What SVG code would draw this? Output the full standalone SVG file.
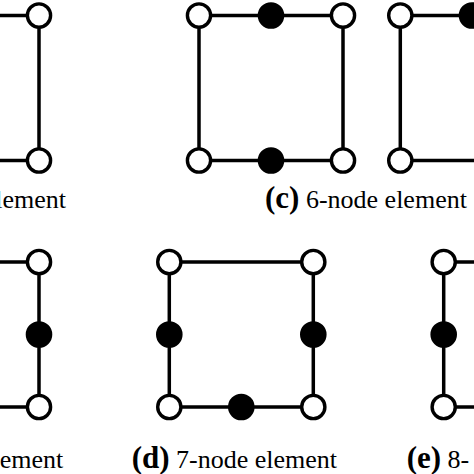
<svg xmlns="http://www.w3.org/2000/svg" width="474" height="474" viewBox="0 0 474 474">
<style>
.e{stroke:#000;stroke-width:3.5;fill:none;stroke-linecap:butt}
.o{fill:#fff;stroke:#000;stroke-width:3.4}
.f{fill:#000;stroke:#000;stroke-width:3.4}
text{font-family:"Liberation Serif","Times New Roman",serif;font-size:26px;fill:#000}
.b{font-weight:bold;font-size:31px}
</style>
<rect width="474" height="474" fill="#fff"/>
<g id="connectors">
<polyline class="e" points="0,15.5 39,15.5 39,160.5 0,160.5"/>
<rect class="e" x="199" y="15.5" width="144" height="145"/>
<polyline class="e" points="474,15.5 400.3,15.5 400.3,160.5 474,160.5"/>
<polyline class="e" points="0,262 39,262 39,407 0,407"/>
<rect class="e" x="169.3" y="262" width="144" height="145"/>
<polyline class="e" points="474,262 443.7,262 443.7,407 474,407"/>
</g>
<g id="element-b">
<circle class="o" cx="39" cy="15.5" r="11.6"/>
<circle class="o" cx="39" cy="160.5" r="11.6"/>
</g>
<g id="element-c">
<circle class="o" cx="199" cy="15.5" r="11.6"/>
<circle class="f" cx="271" cy="15.5" r="11.6"/>
<circle class="o" cx="343" cy="15.5" r="11.6"/>
<circle class="o" cx="199" cy="160.5" r="11.6"/>
<circle class="f" cx="271" cy="160.5" r="11.6"/>
<circle class="o" cx="343" cy="160.5" r="11.6"/>
</g>
<g id="element-top-right">
<circle class="o" cx="400.3" cy="15.5" r="11.6"/>
<circle class="f" cx="472" cy="15.5" r="11.6"/>
<circle class="o" cx="400.3" cy="160.5" r="11.6"/>
</g>
<g id="element-bottom-left">
<circle class="o" cx="39" cy="262" r="11.6"/>
<circle class="f" cx="39" cy="334.5" r="11.6"/>
<circle class="o" cx="39" cy="407" r="11.6"/>
</g>
<g id="element-d">
<circle class="o" cx="169.3" cy="262" r="11.6"/>
<circle class="o" cx="313.3" cy="262" r="11.6"/>
<circle class="f" cx="169.3" cy="334.5" r="11.6"/>
<circle class="f" cx="313.3" cy="334.5" r="11.6"/>
<circle class="o" cx="169.3" cy="407" r="11.6"/>
<circle class="f" cx="241.3" cy="407" r="11.6"/>
<circle class="o" cx="313.3" cy="407" r="11.6"/>
</g>
<g id="element-e">
<circle class="o" cx="443.7" cy="262" r="11.6"/>
<circle class="f" cx="443.7" cy="334.5" r="11.6"/>
<circle class="o" cx="443.7" cy="407" r="11.6"/>
</g>
<g id="labels">
<text x="66" y="208" text-anchor="end">element</text>
<text x="265" y="208"><tspan class="b">(c)</tspan> 6-node element</text>
<text x="63.3" y="468" text-anchor="end">element</text>
<text x="131.7" y="468"><tspan class="b">(d)</tspan> 7-node element</text>
<text x="406.7" y="468"><tspan class="b">(e)</tspan> 8-</text>
</g>
</svg>
